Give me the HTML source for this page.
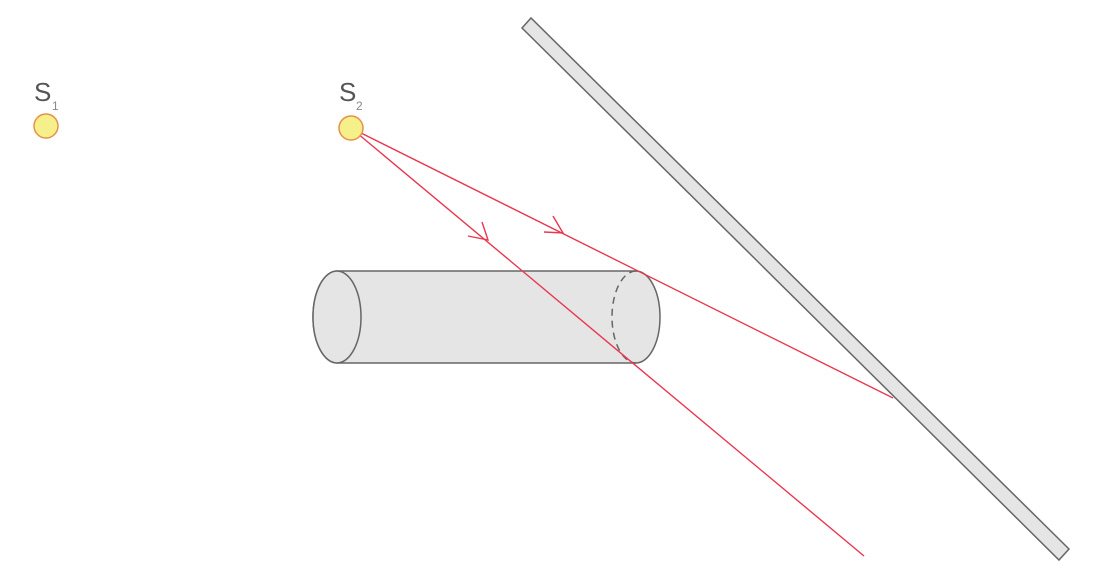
<!DOCTYPE html>
<html><head><style>
html,body{margin:0;padding:0;background:#fff;}
svg{display:block;}
</style></head><body>
<svg width="1095" height="577" viewBox="0 0 1095 577" xmlns="http://www.w3.org/2000/svg">
<polygon points="522,28 531,18 1069,549 1059,560" fill="#e5e5e5" stroke="#666" stroke-width="1.5"/>
<path d="M337,271 L636,271 A24,46 0 0 1 636,363 L337,363 A24,46 0 0 1 337,271 Z" fill="#e5e5e5" stroke="#666" stroke-width="1.5"/>
<ellipse cx="337" cy="317" rx="24" ry="46" fill="#e5e5e5" stroke="#666" stroke-width="1.5"/>
<path d="M636,271 A24,46 0 0 0 636,363" fill="none" stroke="#666" stroke-width="1.5" stroke-dasharray="7,5"/>
<g stroke="#e8384f" stroke-width="1.4" fill="none">
<line x1="351" y1="128" x2="864" y2="556"/>
<line x1="351" y1="128" x2="893" y2="398"/>
<polyline points="482,222 488,240 468,236"/>
<polyline points="553,216 563,233 544,232"/>
</g>
<circle cx="46" cy="126" r="12" fill="#f5f08a" stroke="#e8904a" stroke-width="1.5"/>
<circle cx="351" cy="128" r="12" fill="#f5f08a" stroke="#e8904a" stroke-width="1.5"/>
<text x="34" y="101" font-family="Liberation Sans, sans-serif" font-size="26" fill="#555">S</text>
<text x="52" y="110" font-family="Liberation Sans, sans-serif" font-size="12" fill="#888">1</text>
<text x="339" y="101" font-family="Liberation Sans, sans-serif" font-size="26" fill="#555">S</text>
<text x="356" y="110" font-family="Liberation Sans, sans-serif" font-size="12" fill="#888">2</text>
</svg>
</body></html>
